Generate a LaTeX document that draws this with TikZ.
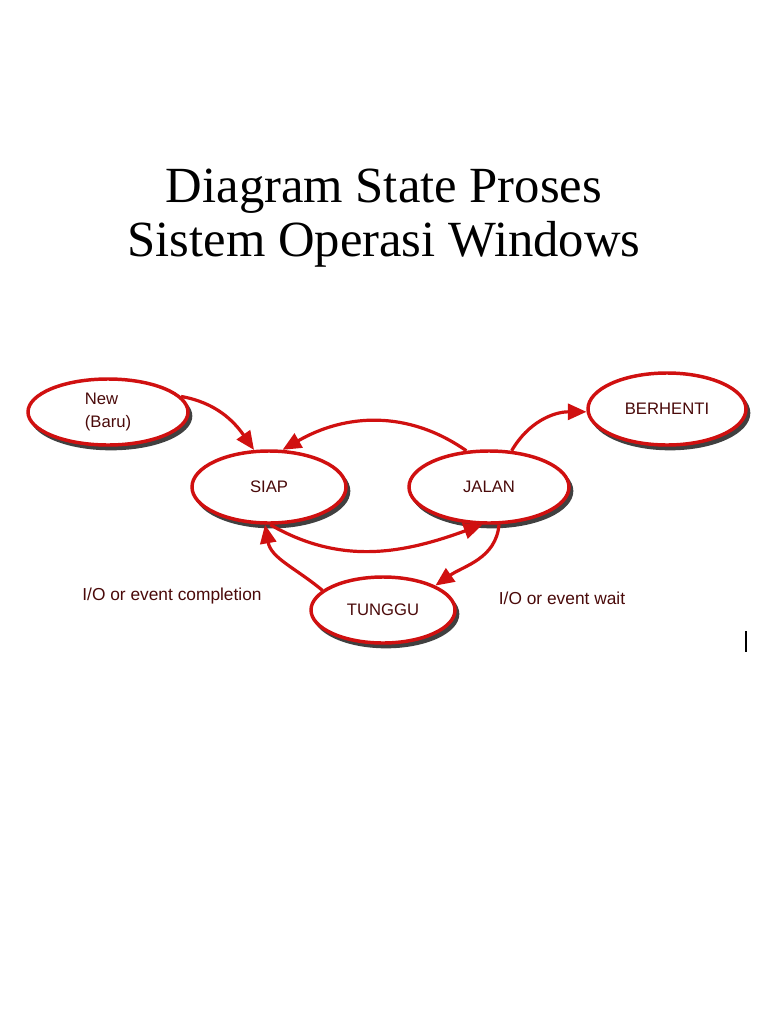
\documentclass[tikz,border=0pt]{standalone}
\usepackage{fontspec}
\setmainfont{Liberation Serif}
\newfontfamily\lsans{Liberation Sans}
\usetikzlibrary{shapes.geometric,arrows.meta}
\definecolor{rd}{HTML}{D01010}
\definecolor{txt}{HTML}{4A0A0A}
\tikzset{
 st/.style={ellipse,draw=rd,line width=2.6pt,fill=white,inner sep=0pt,font=\lsans\fontsize{12.5}{14}\selectfont,text=txt},
 shd/.style={ellipse,fill=black!75,inner sep=0pt},
 ar/.style={draw=rd,line width=2.4pt,-{Triangle[length=14pt,width=12pt,fill=rd]}},
 lbl/.style={font=\lsans\fontsize{13}{15}\selectfont,text=txt}
}
\begin{document}
\begin{tikzpicture}[x=0.75pt,y=-0.75pt]
\useasboundingbox[fill=white] (0,0) rectangle (768,1024);
\node[font=\fontsize{38}{40}\selectfont,align=center] (title) at (384,218) {Diagram State Proses\\Sistem Operasi Windows};
% shadows
\foreach \x/\y/\w/\h in {111/416/160/66, 670/413/158/72, 272/491/154/72, 492/491/160/72, 386/614/144/66}
  \node[shd,minimum width=\w*0.75pt+2pt,minimum height=\h*0.75pt+2pt] at (\x,\y) {};
\node[st,minimum width=120pt,minimum height=49.5pt,align=left] (new) at (108,412) {New\\[3pt](Baru)};
\node[st,minimum width=118.5pt,minimum height=54pt] (ber) at (667,409) {BERHENTI};
\node[st,minimum width=115.5pt,minimum height=54pt] (siap) at (269,487) {SIAP};
\node[st,minimum width=120pt,minimum height=54pt] (jal) at (489,487) {JALAN};
\node[st,minimum width=108pt,minimum height=49.5pt] (tun) at (383,610) {TUNGGU};
\draw[ar] (new.12) to[out=-10,in=125] (siap.112);
\draw[ar] (jal.122) to[out=145,in=30] (siap.70);
\draw[ar] (siap.-88) to[out=-30,in=200] (jal.-100);
\draw[ar] (jal.58) to[out=60,in=180] (ber.182);
\draw[ar] (jal.-75) to[out=-95,in=35] (tun.25);
\draw[ar] (tun.162) to[out=140,in=-80] (siap.-96);
\node[lbl] (l1) at (172,596) {I/O or event completion};
\node[lbl] (l2) at (562,598) {I/O or event wait};
\draw[line width=0.8pt] (746,631) -- (746,652);
\end{tikzpicture}
\end{document}
